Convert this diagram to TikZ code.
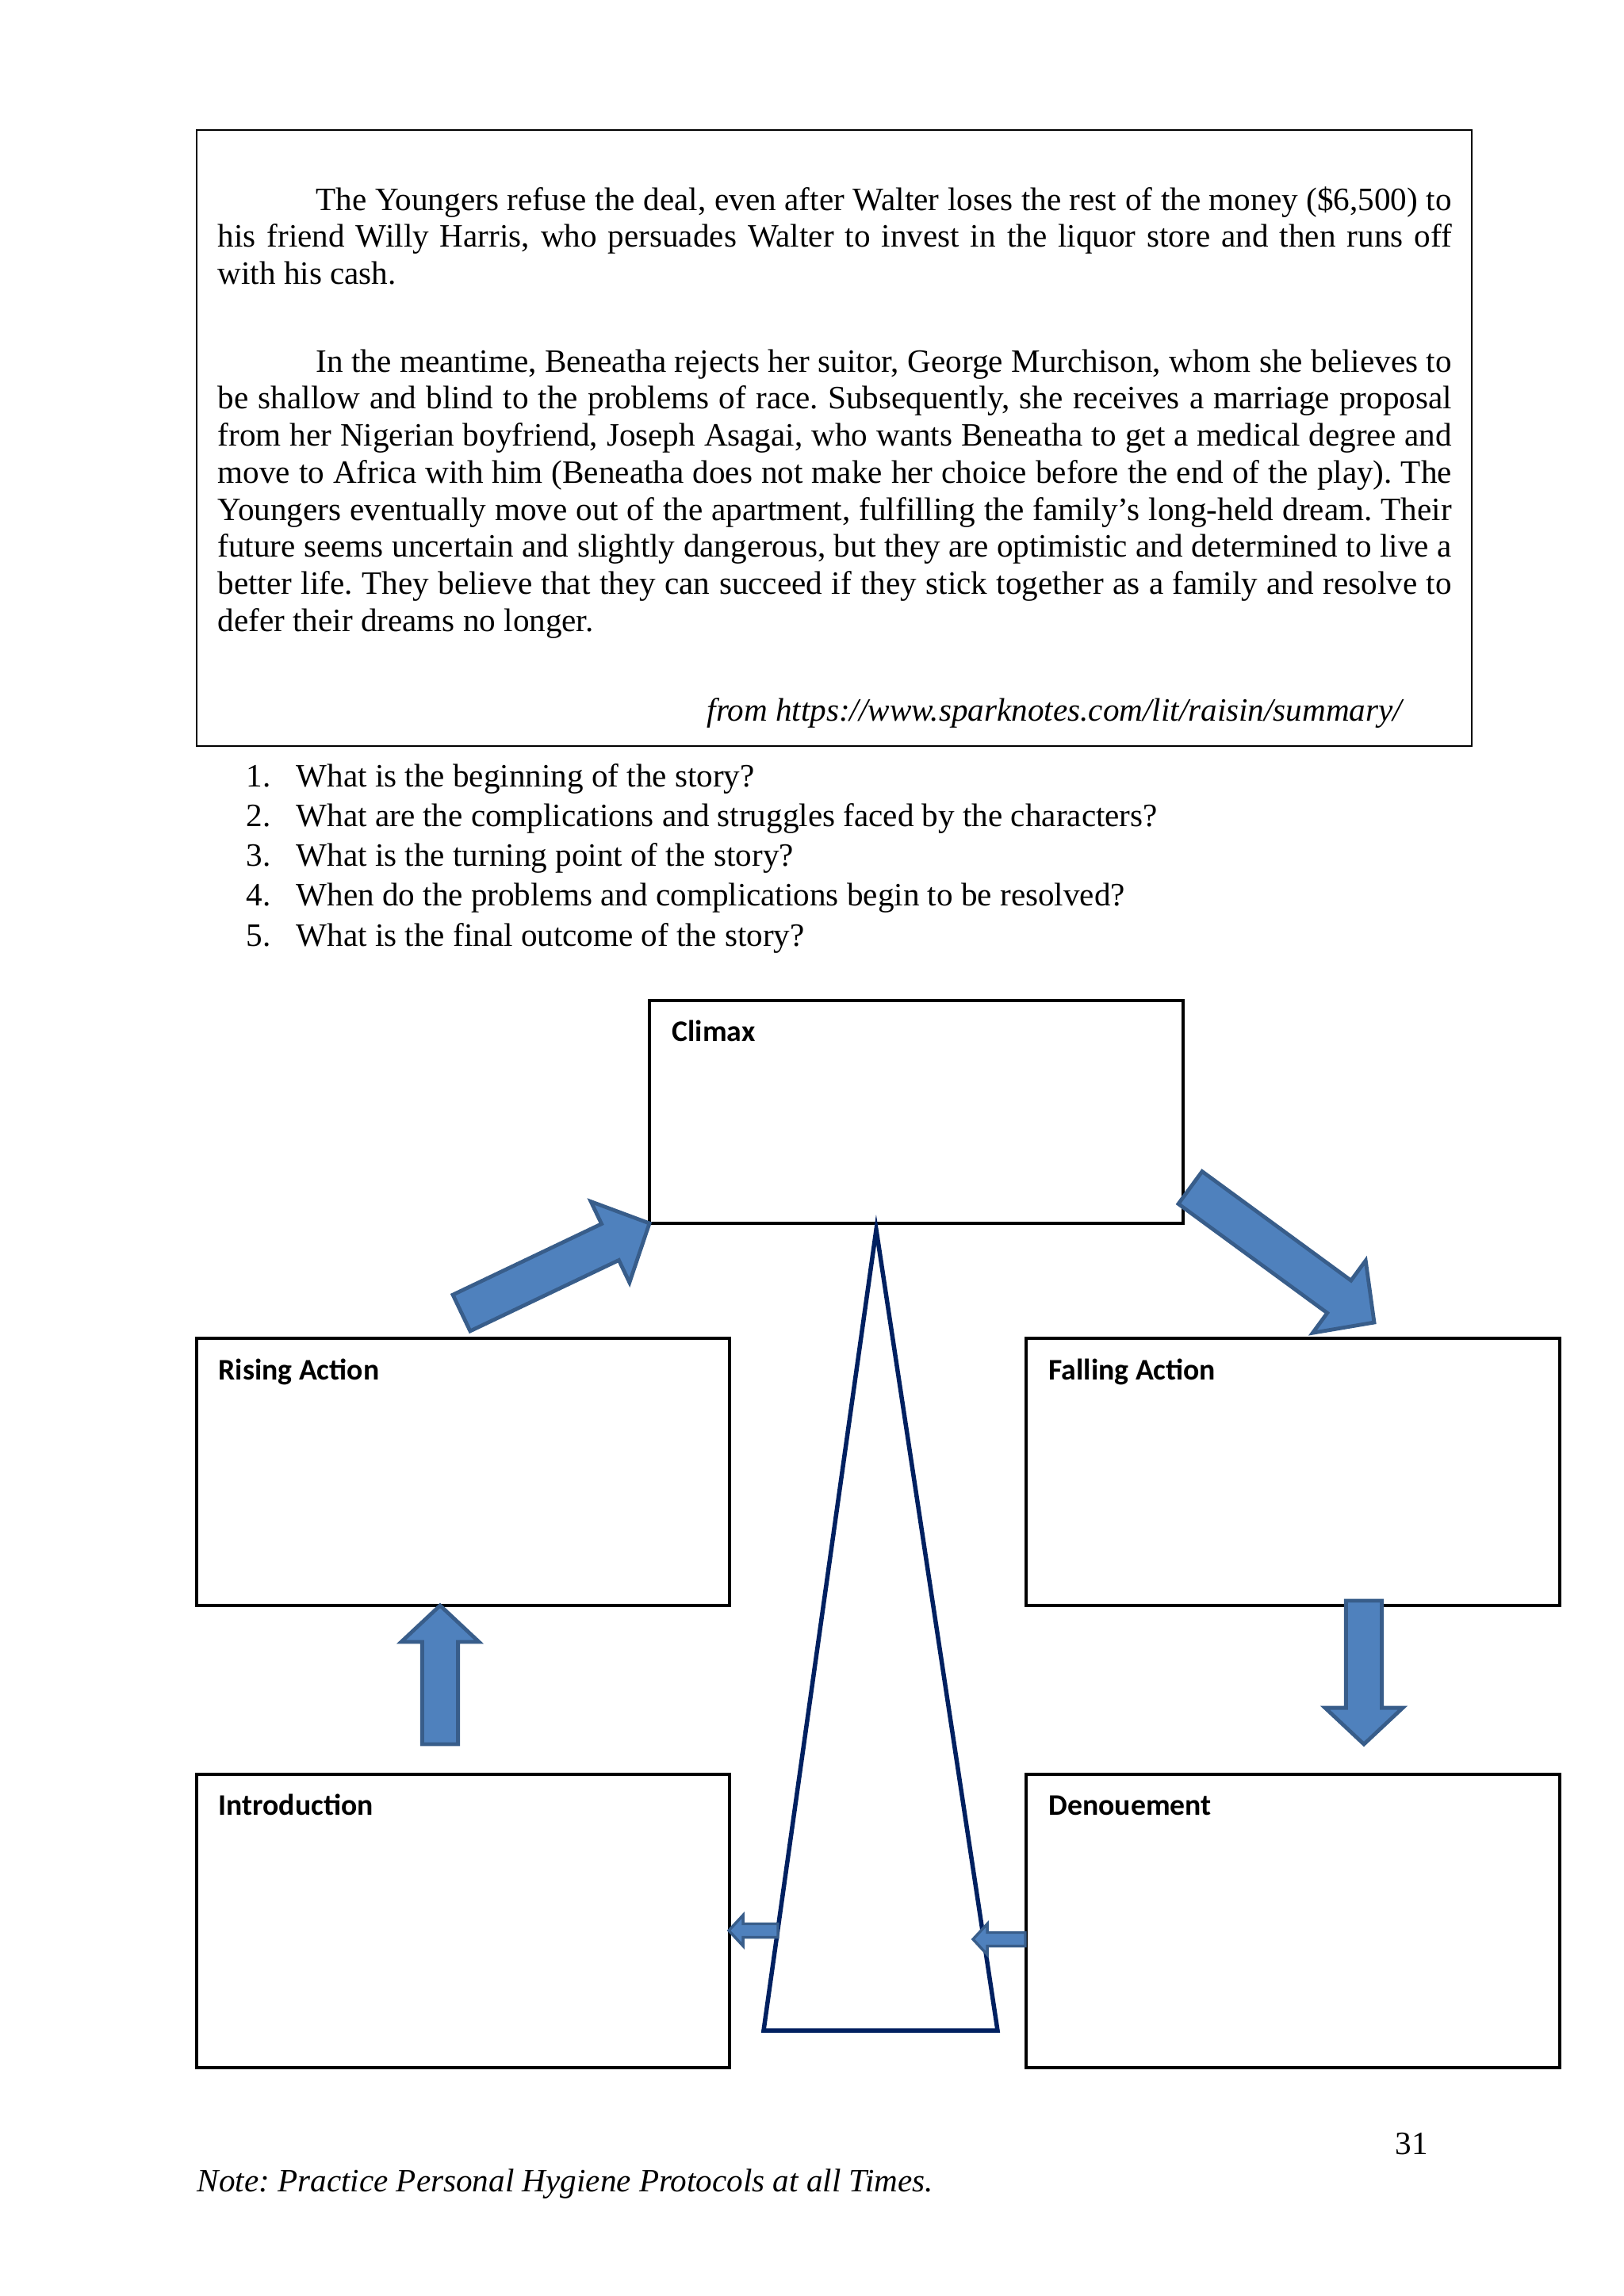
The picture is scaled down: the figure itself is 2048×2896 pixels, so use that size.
\documentclass[tikz,border=0pt]{standalone}
\usepackage{fontspec}
\setmainfont{Liberation Serif}
\newfontfamily\boxfont{Carlito}
\usetikzlibrary{calc}
\frenchspacing

\definecolor{arrowfill}{RGB}{79,129,189}
\definecolor{arrowline}{RGB}{56,93,138}
\definecolor{pyramid}{RGB}{0,32,96}

\tikzset{
  stage/.style={draw, line width=1.4pt, inner sep=0pt, outer sep=0pt, anchor=north west},
  stagelabel/.style={font=\boxfont\bfseries\fontsize{11}{13}\selectfont, inner sep=0pt, anchor=base west},
  body/.style={font=\fontsize{12}{13.65}\selectfont, inner sep=0pt, anchor=base west},
  blockarrow/.style={fill=arrowfill, draw=arrowline, line width=1.4pt, line join=miter},
  pyramidline/.style={draw=pyramid, line width=1.6pt, line join=miter}
}

% #2 tail, #3 tip, #4 half shaft, #5 half head, #6 head length
\newcommand\blockarrow[6][]{%
  \coordinate (bah) at ($(#3)!#6!(#2)$);
  \draw[blockarrow,#1] ($(#2)!#4!90:(#3)$) -- ($(bah)!#4!90:(#3)$) -- ($(bah)!#5!90:(#3)$)
    -- (#3) -- ($(bah)!#5!-90:(#3)$) -- ($(bah)!#4!-90:(#3)$) -- ($(#2)!#4!-90:(#3)$) -- cycle;}

\begin{document}
\begin{tikzpicture}[x=0.1025390625mm, y=-0.1025390625mm]

  \useasboundingbox (0,0) rectangle (2048,2896);

  % summary box
  \node[draw, line width=0.6pt, inner sep=0pt, outer sep=0pt, anchor=north west,
    minimum width=164.88mm, minimum height=79.67mm] (summary) at (248,164) {};

  \node[body, text width=159.55mm, align=justify] (para1) at (274,265)
    {\tolerance=10000\hspace*{0.5in}The Youngers refuse the deal, even after Walter loses the rest of the money (\$6,500) to\linebreak
     his friend Willy Harris, who persuades Walter to invest in the liquor store and then runs off\linebreak
     with his cash.};

  \node[body, text width=159.55mm, align=justify] (para2) at (274,469)
    {\tolerance=10000\hspace*{0.5in}In the meantime, Beneatha rejects her suitor, George Murchison, whom she believes to\linebreak
     be shallow and blind to the problems of race. Subsequently, she receives a marriage proposal\linebreak
     from her Nigerian boyfriend, Joseph Asagai, who wants Beneatha to get a medical degree and\linebreak
     move to Africa with him (Beneatha does not make her choice before the end of the play). The\linebreak
     Youngers eventually move out of the apartment, fulfilling the family’s long-held dream. Their\linebreak
     future seems uncertain and slightly dangerous, but they are optimistic and determined to live a\linebreak
     better life. They believe that they can succeed if they stick together as a family and resolve to\linebreak
     defer their dreams no longer.};

  \node[body, font=\fontsize{12}{13.65}\selectfont\itshape] (source) at (891,909)
    {from https://www.sparknotes.com/lit/raisin/summary/};

  % questions
  \foreach \n/\q in {1/What is the beginning of the story?,
                     2/What are the complications and struggles faced by the characters?,
                     3/What is the turning point of the story?,
                     4/When do the problems and complications begin to be resolved?,
                     5/What is the final outcome of the story?}
  {
    \node[body] (num\n) at (310,{992+(\n-1)*50.3}) {\n.};
    \node[body] (q\n) at (373,{992+(\n-1)*50.3}) {\q};
  }

  % plot boxes
  \node[stage, minimum width=69.01mm, minimum height=28.81mm] (climax) at (819,1262) {};
  \node[stage, minimum width=68.91mm, minimum height=34.56mm] (rising) at (248,1688) {};
  \node[stage, minimum width=69.01mm, minimum height=34.56mm] (falling) at (1294,1688) {};
  \node[stage, minimum width=68.91mm, minimum height=37.94mm] (intro) at (248,2238) {};
  \node[stage, minimum width=69.01mm, minimum height=37.94mm] (denouement) at (1294,2238) {};

  \node[stagelabel] (climaxlbl) at ([shift={(28,51)}]climax.north west) {Climax};
  \node[stagelabel] (risinglbl) at ([shift={(27,52)}]rising.north west) {Rising Action};
  \node[stagelabel] (fallinglbl) at ([shift={(28,52)}]falling.north west) {Falling Action};
  \node[stagelabel] (introlbl) at ([shift={(27,51)}]intro.north west) {Introduction};
  \node[stagelabel] (denouementlbl) at ([shift={(28,51)}]denouement.north west) {Denouement};

  % pyramid
  \coordinate (apex) at (1105,1551);
  \coordinate (pl) at (963,2561);
  \coordinate (pr) at (1258,2561);
  \draw[pyramidline] (apex) -- (pl) -- (pr) -- cycle;

  % block arrows
  \coordinate (a1) at (582,1656);
  \coordinate (a2) at (1501,1498);
  \coordinate (a2e) at (1733,1668);
  \coordinate (a3) at (555,2200);
  \coordinate (a3e) at (555,2025);
  \coordinate (a4) at (1720,2019);
  \coordinate (a4e) at (1720,2200);
  \coordinate (a5) at (981,2435);
  \coordinate (a5e) at (919,2435);
  \coordinate (a6) at (1293,2446);
  \coordinate (a6e) at (1227,2446);

  \blockarrow{a1}{climax.south west}{7.4pt}{16.5pt}{16pt}
  \blockarrow{a2}{a2e}{7.4pt}{16.5pt}{16pt}
  \blockarrow{a3}{a3e}{6.6pt}{14.3pt}{13.4pt}
  \blockarrow{a4}{a4e}{6.6pt}{14.3pt}{13.4pt}
  \blockarrow[line width=1pt]{a5}{a5e}{2.5pt}{5.7pt}{5.3pt}
  \blockarrow[line width=1pt]{a6}{a6e}{2.5pt}{5.7pt}{5.3pt}

  % footer
  \node[body] (page) at (1759,2717) {31};
  \node[body, font=\fontsize{12}{13.65}\selectfont\itshape] (note) at (248,2764)
    {Note: Practice Personal Hygiene Protocols at all Times.};

\end{tikzpicture}
\end{document}
